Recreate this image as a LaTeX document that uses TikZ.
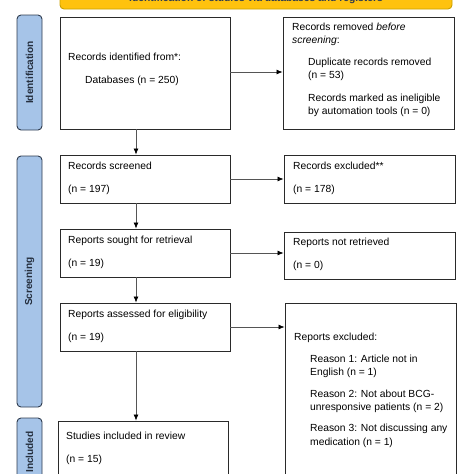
\documentclass[tikz,border=0pt]{standalone}
\usepackage{fontspec}
\setmainfont{Liberation Sans}
\usetikzlibrary{arrows.meta}
\definecolor{bannerfill}{HTML}{FFC20E}
\definecolor{bannerdraw}{HTML}{C9A000}
\definecolor{labfill}{HTML}{A6C4E8}
\definecolor{labdraw}{HTML}{2E3B4E}
\definecolor{boxdraw}{HTML}{2A2A2A}
\definecolor{arrowline}{HTML}{555555}
\tikzset{
  box/.style={draw=boxdraw, line width=0.9pt, inner sep=0pt, fill=white},
  txt/.style={inner sep=0pt, anchor=base west, font=\fontsize{10.3}{12}\selectfont},
  sidelab/.style={draw=labdraw, fill=labfill, line width=0.9pt, rounded corners=4pt, inner sep=0pt},
  sidetxt/.style={inner sep=0pt, rotate=90, font=\fontsize{10.1}{12}\selectfont\bfseries, text=labdraw!80!black},
  banner/.style={draw=bannerdraw, fill=bannerfill, line width=0.9pt, rounded corners=4pt, inner sep=0pt},
  flow/.style={draw=arrowline, line width=0.7pt, -{Latex[length=6pt,width=5pt,color=black]}}
}
\begin{document}
\begin{tikzpicture}[x=1pt,y=-1pt]
\useasboundingbox (0,0) rectangle (474,474);
\clip (0,0) rectangle (474,474);
% banner
\node[banner, minimum width=392pt, minimum height=30pt] (ban) at (256,-6) {};
\node[inner sep=0pt, anchor=base, font=\fontsize{10.3}{12}\selectfont\bfseries, text=labdraw] (bantxt) at (256,1) {Identification of studies via databases and registers};
% side labels
\node[sidelab, minimum width=25pt, minimum height=115pt] (lid) at (29.5,72.5) {};
\node[sidetxt] (lidt) at (lid.center) {Identification};
\node[sidelab, minimum width=25pt, minimum height=251pt] (lsc) at (29.5,281.5) {};
\node[sidetxt] (lsct) at (lsc.center) {Screening};
\node[sidelab, minimum width=25pt, minimum height=68pt] (lin) at (29.5,452) {};
\node[sidetxt] (lint) at (lin.center) {Included};
% boxes
\node[box, minimum width=170pt, minimum height=112pt] (b1) at (145,73) {};
\node[box, minimum width=171pt, minimum height=112pt] (b2) at (368.5,73) {};
\node[box, minimum width=170pt, minimum height=48pt] (b3) at (145,179) {};
\node[box, minimum width=171pt, minimum height=48pt] (b4) at (369.5,179) {};
\node[box, minimum width=170pt, minimum height=48pt] (b5) at (145,253) {};
\node[box, minimum width=171pt, minimum height=47pt] (b6) at (369.5,255.5) {};
\node[box, minimum width=170pt, minimum height=48pt] (b7) at (145,327) {};
\node[box, minimum width=171pt, minimum height=190pt] (b8) at (370.5,398) {};
\node[box, minimum width=170pt, minimum height=80pt] (b9) at (143,461) {};
% texts
\node[txt] (t1a) at (68,60.5) {Records identified from*:};
\node[txt] (t1b) at (85,83.5) {Databases (n = 250)};
\node[txt] (t2a) at (292,30.5) {Records removed \textit{before}};
\node[txt] (t2b) at (292,43.5) {\textit{screening}:};
\node[txt] (t2c) at (308,65.5) {Duplicate records removed};
\node[txt] (t2d) at (308,78.5) {(n = 53)};
\node[txt] (t2e) at (308,101.5) {Records marked as ineligible};
\node[txt] (t2f) at (308,114.5) {by automation tools (n = 0)};
\node[txt] (t3a) at (68,169.5) {Records screened};
\node[txt] (t3b) at (68,192.5) {(n = 197)};
\node[txt] (t4a) at (293,169.5) {Records excluded**};
\node[txt] (t4b) at (293,192.5) {(n = 178)};
\node[txt] (t5a) at (68,243.5) {Reports sought for retrieval};
\node[txt] (t5b) at (68,266.5) {(n = 19)};
\node[txt] (t6a) at (293,245.5) {Reports not retrieved};
\node[txt] (t6b) at (293,268.5) {(n = 0)};
\node[txt] (t7a) at (68,317.5) {Reports assessed for eligibility};
\node[txt] (t7b) at (68,340.5) {(n = 19)};
\node[txt] (t8a) at (294,340.5) {Reports excluded:};
\node[txt] (t8b) at (310,362.5) {Reason 1: Article not in};
\node[txt] (t8c) at (310,375.5) {English (n = 1)};
\node[txt] (t8d) at (310,397.5) {Reason 2: Not about BCG-};
\node[txt] (t8e) at (310,410.5) {unresponsive patients (n = 2)};
\node[txt] (t8f) at (310,431.5) {Reason 3: Not discussing any};
\node[txt] (t8g) at (310,445.5) {medication (n = 1)};
\node[txt] (t9a) at (66,439.5) {Studies included in review};
\node[txt] (t9b) at (66,462.5) {(n = 15)};
% connectors
\draw[flow] (b1.east |- 0,72) -- (b2.west |- 0,72);
\draw[flow] (b3.east) -- (b4.west |- b3.east);
\draw[flow] (b5.east) -- (b6.west |- b5.east);
\draw[flow] (b7.east) -- (b8.west |- b7.east);
\draw[flow] (b1.south -| 136,0) -- (b3.north -| 136,0);
\draw[flow] (b3.south -| 136,0) -- (b5.north -| 136,0);
\draw[flow] (b5.south -| 136,0) -- (b7.north -| 136,0);
\draw[flow] (b7.south -| 136,0) -- (b9.north -| 136,0);
\end{tikzpicture}
\end{document}
